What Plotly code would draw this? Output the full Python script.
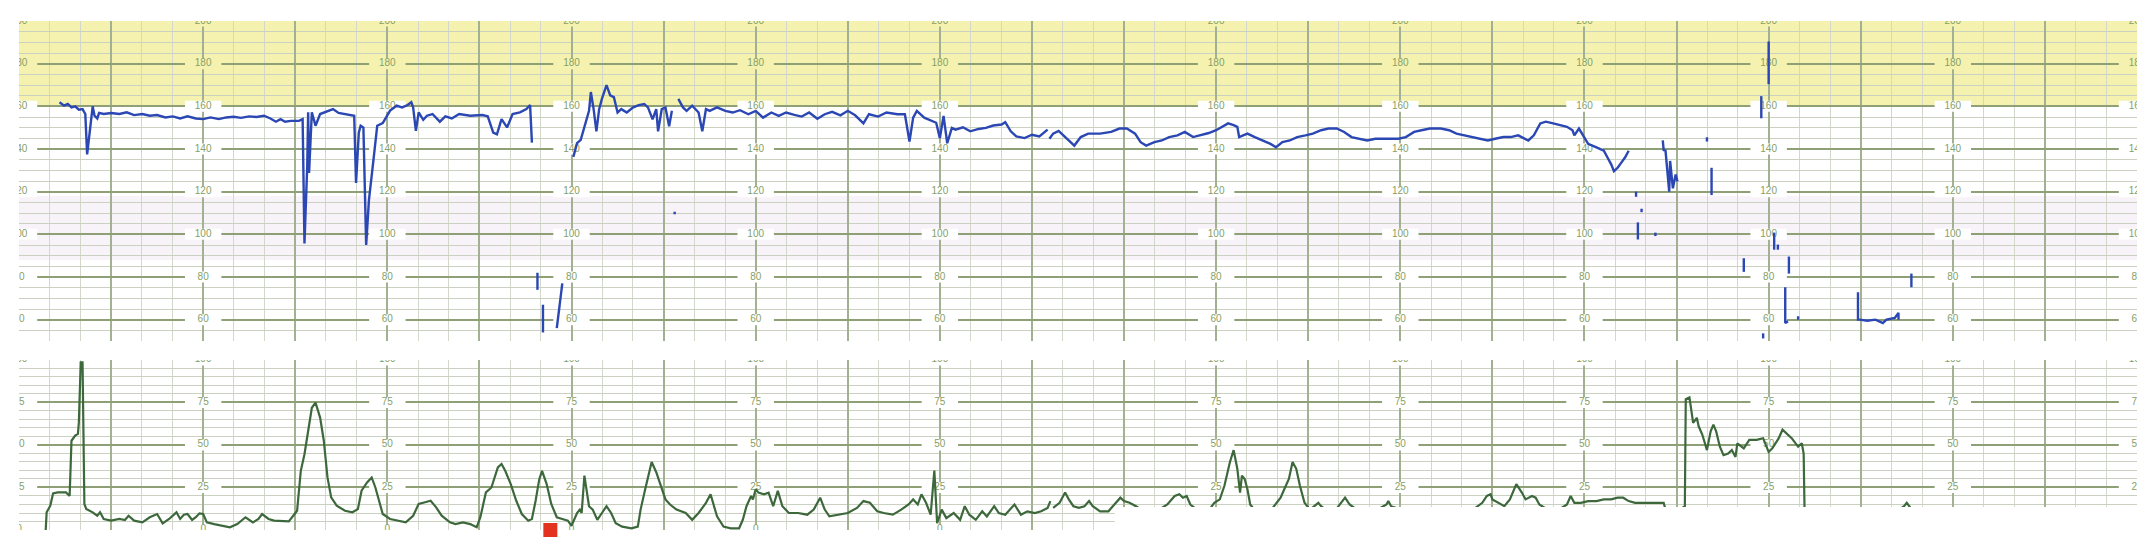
import plotly.graph_objects as go

# strip time in minutes (0 = left edge of the paper)
x_end = 23
fhr_major = [60, 80, 100, 120, 140, 160, 180, 200]
uc_major = [0, 25, 50, 75, 100]
label_min = [0, 2, 4, 6, 8, 10, 13, 15, 17, 19, 21, 23]

# fetal heart rate trace, (minute, bpm)
fhr_seg1 = [
    (0.44, 161.9), (0.49, 160.3), (0.53, 161.1), (0.57, 159.5), (0.61, 160), (0.65, 158.4),
    (0.69, 158.7), (0.72, 156.4), (0.74, 137.5), (0.77, 147.7), (0.80, 160), (0.82, 155.6),
    (0.85, 154.3), (0.87, 156.9), (0.92, 156.4), (1.00, 156.9), (1.09, 156.4), (1.17, 157.2),
    (1.25, 155.9), (1.34, 156.4), (1.42, 155.6), (1.50, 155.9), (1.59, 154.8), (1.67, 155.3),
    (1.75, 154.3), (1.83, 155.3), (1.92, 154.3), (2.00, 154), (2.08, 154.8), (2.17, 154),
    (2.25, 154.8), (2.33, 155.1), (2.41, 154.6), (2.50, 155.3), (2.58, 155), (2.66, 155.6),
    (2.73, 154.3), (2.79, 152.8), (2.84, 154), (2.89, 152.8), (2.95, 153.2), (3.04, 153.2),
    (3.08, 154), (3.10, 95.7), (3.13, 132), (3.14, 157.2), (3.15, 128.8), (3.18, 157.2),
    (3.22, 150.9), (3.27, 156.4), (3.33, 157.5), (3.41, 158.7), (3.47, 156.9), (3.56, 156.4),
    (3.64, 155.6), (3.66, 124.1), (3.69, 147.7), (3.71, 150.9), (3.74, 150), (3.77, 95),
    (3.80, 116), (3.85, 135.1), (3.89, 150.9), (3.95, 152.1), (4.03, 158), (4.10, 160.3),
    (4.16, 159.5), (4.22, 160.6), (4.26, 161.9), (4.28, 159.5), (4.31, 148.5), (4.34, 157.2),
    (4.39, 153.7), (4.43, 155.6), (4.49, 156.4), (4.57, 152.8), (4.63, 155.3), (4.70, 154.3),
    (4.78, 156.4), (4.90, 155.6), (5.03, 155.9), (5.09, 155.3), (5.15, 147.7), (5.19, 146.9),
    (5.24, 154), (5.30, 150.1), (5.36, 156.4), (5.44, 157.2), (5.51, 158.7), (5.55, 160.6),
    (5.57, 143),
]
fhr_seg2 = [
    (6.02, 136.3), (6.06, 142.7), (6.10, 144.3), (6.15, 152.3), (6.19, 157.9), (6.21, 166.7),
    (6.24, 158.7), (6.27, 148.3), (6.30, 158.7), (6.33, 163.5), (6.38, 169.9), (6.42, 165.1),
    (6.46, 164.3), (6.50, 157.1), (6.54, 158.7), (6.60, 157.1), (6.67, 159.5), (6.73, 160.6),
    (6.79, 161.1), (6.83, 159.5), (6.88, 153.9), (6.92, 158.7), (6.94, 148.3), (6.98, 158.7),
    (7.02, 159.5), (7.06, 150.7), (7.09, 157.9),
]
fhr_seg3 = [
    (7.16, 163.5), (7.21, 159.5), (7.25, 157.9), (7.31, 160.3), (7.38, 157.1), (7.42, 148.3),
    (7.46, 158.7), (7.50, 157.9), (7.58, 159.5), (7.67, 157.9), (7.75, 157.1), (7.83, 158.2),
    (7.92, 156.3), (8.00, 157.9), (8.08, 154.7), (8.17, 157.1), (8.25, 155.5), (8.33, 157.1),
    (8.42, 156), (8.50, 155.2), (8.58, 157.1), (8.67, 154.2), (8.75, 156.3), (8.83, 157.4),
    (8.92, 155.8), (9.00, 157.9), (9.08, 155.8), (9.17, 152), (9.23, 156.3), (9.33, 155.2),
    (9.42, 157.1), (9.54, 156.3), (9.62, 156.3), (9.67, 143.5), (9.71, 154.7), (9.75, 157.9),
    (9.83, 154.7), (9.92, 153.1), (9.96, 152.3), (10.00, 145.1), (10.04, 155.5), (10.08, 142.7),
    (10.13, 149.9), (10.17, 149.1), (10.25, 150.2), (10.33, 148.3), (10.42, 149.4), (10.50, 149.9),
    (10.58, 151), (10.67, 151.5), (10.71, 152.6), (10.77, 148.3), (10.83, 145.9), (10.92, 145.1),
    (11.00, 146.7), (11.08, 145.9), (11.17, 149.1),
]
fhr_seg4 = [
    (11.19, 144.8), (11.23, 147.2), (11.29, 148.5), (11.36, 145.6), (11.42, 143.2), (11.46, 141.6),
    (11.53, 145.6), (11.61, 147.2), (11.74, 147.2), (11.86, 148), (11.95, 149.6), (12.03, 149.6),
    (12.12, 147.2), (12.18, 143.2), (12.24, 141.6), (12.33, 143.2), (12.41, 144), (12.49, 145.6),
    (12.58, 146.4), (12.66, 148), (12.75, 145.6), (12.83, 146.4), (12.92, 147.5), (13.00, 148.8),
    (13.06, 150.4), (13.13, 152), (13.19, 151.2), (13.23, 150.4), (13.25, 145.6), (13.34, 147.2),
    (13.42, 145.6), (13.51, 144), (13.59, 142.4), (13.65, 140.8), (13.72, 143.2), (13.80, 144),
    (13.88, 145.6), (13.97, 146.4), (14.05, 147.2), (14.14, 148.8), (14.22, 149.6), (14.31, 149.6),
    (14.39, 148), (14.47, 145.6), (14.56, 144.8), (14.64, 144), (14.73, 144.8), (14.85, 144.8),
    (14.98, 144.8), (15.06, 145.6), (15.15, 148), (15.23, 148.8), (15.32, 149.6), (15.44, 149.6),
    (15.53, 148.8), (15.61, 147.2), (15.69, 146.4), (15.78, 145.6), (15.86, 144.8), (15.95, 144),
    (16.03, 144.8), (16.12, 145.6), (16.20, 145.6), (16.28, 146.4), (16.39, 144), (16.45, 146.4),
    (16.52, 152), (16.58, 152.8), (16.66, 152), (16.75, 151.2), (16.81, 150.4), (16.87, 148.8),
    (16.89, 146.4), (16.94, 149.6), (17.00, 145.6), (17.04, 142.4), (17.13, 140.8), (17.21, 139.2),
    (17.25, 136), (17.29, 132.8), (17.32, 129.6), (17.36, 131.2), (17.40, 133.6), (17.44, 136),
    (17.48, 139.2),
]
fhr_bits = [
    [(5.63, 82), (5.63, 74)],
    [(5.69, 67), (5.69, 54)],
    [(5.84, 56), (5.90, 77)],
    [(7.12, 110.6), (7.12, 109.4)],
    [(17.56, 120), (17.56, 117.6)],
    [(17.62, 112), (17.62, 110.4)],
    [(17.58, 105.6), (17.58, 97.6)],
    [(17.77, 100.8), (17.77, 99.2)],
    [(17.85, 144), (17.86, 139.5), (17.88, 139.2), (17.92, 120), (17.93, 134.4),
     (17.96, 121.6), (17.99, 128), (18.01, 124.8)],
    [(18.33, 145.5), (18.33, 143.5)],
    [(18.38, 131.2), (18.38, 118.4)],
    [(18.73, 88.8), (18.73, 82.4)],
    [(18.92, 164.8), (18.92, 154.4)],
    [(19.00, 190.4), (19.00, 170.4)],
    [(18.94, 53.6), (18.94, 51.2)],
    [(19.06, 100.8), (19.06, 92.8)],
    [(19.10, 95.2), (19.10, 92.8)],
    [(19.22, 89.6), (19.22, 81.6)],
    [(19.18, 75.2), (19.18, 58.4), (19.21, 59.2)],
    [(19.32, 61.6), (19.32, 60)],
    [(19.97, 72.8), (19.97, 60), (19.99, 60), (20.07, 59.5), (20.16, 60), (20.24, 58.4),
     (20.28, 60), (20.37, 60.8), (20.41, 63.2), (20.41, 60)],
    [(20.55, 81.6), (20.55, 75.2)],
]

# uterine activity trace, (minute, units)
uc_seg1 = [
    (0.29, 0), (0.30, 10.4), (0.34, 14.3), (0.37, 21.5), (0.42, 22.1), (0.51, 22.1), (0.55, 20.1),
    (0.56, 34.8), (0.57, 52.5), (0.61, 55.5), (0.64, 56.5), (0.65, 63.3), (0.67, 98.6), (0.69, 98.6),
    (0.71, 15.3), (0.73, 12.4), (0.80, 10.4), (0.85, 8.4), (0.88, 10.4), (0.92, 6.5), (1.00, 5.5),
    (1.09, 6.5), (1.15, 5.9), (1.19, 8.4), (1.25, 5.5), (1.34, 4.5), (1.42, 7.5), (1.50, 9.4),
    (1.56, 3.9), (1.63, 6.5), (1.71, 10.4), (1.75, 6.5), (1.79, 9), (1.83, 9.4), (1.88, 5.9),
    (1.92, 7.5), (1.96, 9.8), (2.00, 9.4), (2.04, 4.5), (2.12, 3.5), (2.21, 2.5), (2.29, 1.6),
    (2.37, 3.5), (2.46, 7.5), (2.54, 4.5), (2.60, 6.5), (2.64, 9.4), (2.71, 6.5), (2.77, 5.5),
    (2.83, 5.5), (2.93, 5.1), (3.02, 11.3), (3.06, 34.8), (3.10, 44.6), (3.14, 58.3), (3.18, 71.9),
    (3.22, 74.9), (3.27, 66.1), (3.31, 52.5), (3.35, 30.9), (3.39, 19.2), (3.45, 14.3), (3.54, 11.3),
    (3.62, 10.4), (3.68, 12.3), (3.72, 23.1), (3.78, 28), (3.83, 30.9), (3.87, 25), (3.91, 17.2),
    (3.95, 9.4), (4.03, 6.5), (4.12, 5.5), (4.20, 4.5), (4.28, 8.4), (4.34, 15.3), (4.41, 16.3),
    (4.47, 17.2), (4.53, 13.3), (4.59, 8.4), (4.68, 4.5), (4.74, 3.5), (4.82, 4.5), (4.90, 3.5),
    (4.97, 1.6), (5.01, 7.5), (5.07, 22.1), (5.13, 25), (5.20, 36.8), (5.24, 38.8), (5.28, 34.8),
    (5.34, 27), (5.40, 17.2), (5.46, 9.4), (5.53, 5.5), (5.57, 6.5), (5.61, 17.2), (5.65, 29.9),
    (5.68, 34.8), (5.73, 27), (5.78, 15.3), (5.84, 7.5), (5.90, 6.5), (5.96, 5.5), (6.00, 2.5),
    (6.06, 10), (6.09, 12), (6.11, 10), (6.14, 32), (6.16, 24), (6.19, 14), (6.23, 12), (6.28, 6),
    (6.33, 10), (6.38, 14), (6.43, 10), (6.48, 4), (6.55, 2), (6.65, 1), (6.72, 2), (6.75, 12),
    (6.80, 24), (6.87, 40), (6.92, 34), (6.97, 26), (7.02, 18), (7.07, 15), (7.14, 12), (7.24, 10),
    (7.31, 6), (7.38, 10), (7.46, 16), (7.51, 21), (7.54, 16), (7.58, 8), (7.65, 2), (7.73, 1),
    (7.82, 1), (7.86, 6), (7.90, 14), (7.95, 20), (7.97, 18), (8.00, 24), (8.03, 22), (8.09, 21),
    (8.14, 22), (8.19, 14), (8.24, 23), (8.29, 14), (8.36, 10), (8.46, 10), (8.56, 9), (8.63, 12),
    (8.70, 19), (8.75, 12), (8.80, 8), (8.90, 9), (9.00, 10), (9.10, 13), (9.17, 17), (9.24, 16),
    (9.32, 11), (9.39, 10), (9.49, 9), (9.58, 12), (9.66, 15), (9.71, 18), (9.76, 15), (9.80, 21),
    (9.85, 16), (9.90, 9), (9.94, 35), (9.97, 4), (10.02, 12), (10.07, 7), (10.15, 10), (10.22, 6),
    (10.27, 14), (10.32, 9), (10.39, 6), (10.46, 11), (10.51, 8), (10.59, 14), (10.64, 10),
    (10.71, 9), (10.81, 15), (10.88, 9), (10.95, 11), (11.03, 10), (11.10, 11), (11.17, 13),
    (11.20, 17),
]
uc_seg2 = [
    (11.23, 13), (11.30, 16), (11.36, 22), (11.40, 18), (11.45, 14), (11.51, 13), (11.57, 14),
    (11.62, 17), (11.66, 14), (11.74, 11), (11.83, 11), (11.91, 16), (11.96, 19), (12.00, 17),
    (12.06, 16), (12.13, 14), (12.21, 11), (12.30, 11), (12.38, 12), (12.47, 15), (12.55, 20),
    (12.60, 21), (12.64, 19), (12.68, 20), (12.72, 15), (12.79, 12), (12.87, 11), (12.94, 13),
    (12.98, 16), (13.04, 18), (13.09, 26), (13.15, 40), (13.19, 47), (13.23, 36), (13.26, 22),
    (13.28, 32), (13.31, 30), (13.34, 24), (13.37, 15), (13.43, 11), (13.51, 11), (13.60, 12),
    (13.66, 16), (13.70, 19), (13.74, 24), (13.79, 30), (13.83, 40), (13.87, 36), (13.91, 26),
    (13.96, 16), (14.02, 12), (14.09, 15), (14.11, 16), (14.14, 14), (14.21, 11), (14.30, 12),
    (14.36, 16), (14.40, 19), (14.45, 15), (14.55, 11), (14.72, 11), (14.85, 15), (14.87, 17),
    (14.90, 14), (15.06, 11), (15.36, 11), (15.57, 11), (15.79, 12), (15.89, 16), (15.94, 20),
    (15.98, 21), (16.00, 18), (16.06, 16), (16.13, 14), (16.19, 18), (16.26, 27), (16.32, 22),
    (16.36, 18), (16.43, 20), (16.47, 19), (16.51, 15), (16.60, 12), (16.72, 12), (16.81, 15),
    (16.85, 20), (16.89, 16), (16.96, 16), (17.04, 17), (17.13, 17), (17.21, 18), (17.29, 18),
    (17.36, 19), (17.42, 19), (17.48, 17), (17.55, 16), (17.63, 16), (17.76, 16), (17.86, 16),
    (17.88, 12), (18.01, 11), (18.09, 14), (18.10, 77), (18.14, 78), (18.16, 70), (18.18, 63),
    (18.22, 66), (18.24, 61), (18.28, 56), (18.33, 47), (18.37, 58), (18.40, 62), (18.43, 58),
    (18.47, 49), (18.51, 44), (18.56, 45), (18.60, 47), (18.64, 43), (18.66, 51), (18.73, 48),
    (18.79, 53), (18.87, 53), (18.94, 54), (19.00, 46), (19.04, 48), (19.11, 54), (19.15, 59),
    (19.19, 57), (19.25, 54), (19.32, 49), (19.36, 51), (19.38, 45), (19.39, 11), (19.53, 10),
    (19.95, 10), (20.37, 10), (20.47, 14), (20.50, 16), (20.54, 13), (20.62, 10),
]
event_marker_min = [5.77]

# the right-hand strip is cut off below this level on the lower panel
uc_cut_from, uc_cut_level = 11.9, 13.5

YELLOW = "#f5f2b0"
GRID_TXT = "#86a067"


def join(segments):
    xs, ys = [], []
    for seg in segments:
        for t, v in seg:
            xs.append(t)
            ys.append(v)
        xs.append(None)
        ys.append(None)
    return xs, ys


fhr_x, fhr_y = join([fhr_seg1, fhr_seg2, fhr_seg3, fhr_seg4] + fhr_bits)
uc_x, uc_y = join([uc_seg1, uc_seg2])

fig = go.Figure()

# printed scale numbers on the paper (with a little gap cut into the grid)
for vals, ax in [(fhr_major, ("x", "y")), (uc_major, ("x2", "y2"))]:
    lx = [m for m in label_min for v in vals]
    ly = [v for m in label_min for v in vals]
    bg = [YELLOW if v >= 170 and ax[1] == "y" else "white" for v in ly]
    fig.add_trace(go.Scatter(
        x=lx, y=ly, xaxis=ax[0], yaxis=ax[1], mode="markers", hoverinfo="skip",
        marker=dict(symbol="line-ew", size=26, line=dict(width=11, color=bg)),
    ))
    fig.add_trace(go.Scatter(
        x=lx, y=ly, xaxis=ax[0], yaxis=ax[1], mode="text", text=[str(v) for v in ly],
        textfont=dict(size=10, color=GRID_TXT, family="Liberation Sans Narrow, Arial"),
        hoverinfo="skip",
    ))

fig.add_trace(go.Scatter(
    x=fhr_x, y=fhr_y, xaxis="x", yaxis="y", mode="lines", connectgaps=False,
    line=dict(color="#2b47b3", width=2.4), name="FHR",
))
fig.add_trace(go.Scatter(
    x=uc_x, y=uc_y, xaxis="x2", yaxis="y2", mode="lines", connectgaps=False,
    line=dict(color="#3d683c", width=2.2), name="UC",
))
fig.add_trace(go.Scatter(
    x=event_marker_min, y=[0] * len(event_marker_min), xaxis="x2", yaxis="y2",
    mode="markers", cliponaxis=False, hoverinfo="skip",
    marker=dict(symbol="square", size=14, color="#e3321f", line=dict(width=0)),
))

grid_x = dict(
    range=[0, x_end], showticklabels=False, ticks="", zeroline=False, showline=False,
    dtick=1, tick0=0, showgrid=True, gridcolor="#a3b092", gridwidth=1.5,
    minor=dict(dtick=1 / 3, tick0=0, showgrid=True, gridcolor="#d3d8cb", gridwidth=1),
)

fig.update_layout(
    width=2156, height=558,
    margin=dict(l=19, r=19, t=21, b=28),
    paper_bgcolor="white", plot_bgcolor="white",
    showlegend=False,
    xaxis=dict(grid_x, domain=[0, 1], anchor="y"),
    xaxis2=dict(grid_x, domain=[0, 1], anchor="y2", matches="x"),
    yaxis=dict(
        range=[50, 200], domain=[0.3713, 1], showticklabels=False, ticks="", zeroline=False,
        dtick=20, tick0=0, showgrid=True, gridcolor="#8f9f76", gridwidth=2,
        minor=dict(dtick=5, tick0=0, showgrid=True, gridcolor="#cbd1c1", gridwidth=1),
    ),
    yaxis2=dict(
        range=[0, 100], domain=[0, 0.334], showticklabels=False, ticks="", zeroline=False,
        dtick=25, tick0=0, showgrid=True, gridcolor="#8f9f76", gridwidth=2,
        minor=dict(dtick=5, tick0=0, showgrid=True, gridcolor="#cbd1c1", gridwidth=1),
    ),
    shapes=[
        # tachycardia band printed in yellow
        dict(type="rect", xref="x", yref="y", x0=0, x1=x_end, y0=160, y1=200,
             fillcolor=YELLOW, line=dict(width=0), layer="below"),
        dict(type="rect", xref="x", yref="y", x0=0, x1=x_end, y0=88, y1=118,
             fillcolor="#f8f3f8", line=dict(width=0), layer="below"),
        # the second sheet is trimmed at the bottom
        dict(type="rect", xref="x2", yref="y2", x0=uc_cut_from, x1=x_end + 0.1,
             y0=-3, y1=uc_cut_level, fillcolor="white", line=dict(width=0), layer="above"),
    ],
)

fig.write_html(
    "out.html",
    config={"displayModeBar": False},
    post_script="document.body.style.margin='0';",
)
